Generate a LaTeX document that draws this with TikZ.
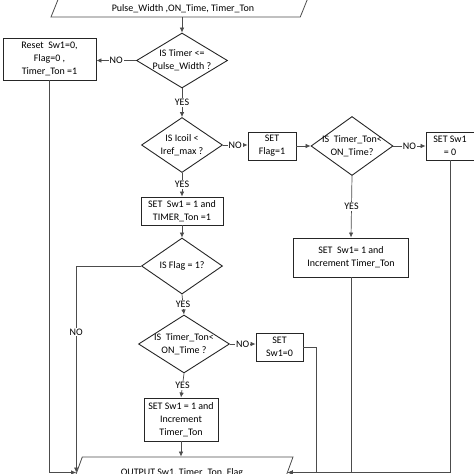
\documentclass[tikz,border=0pt]{standalone}
\usepackage{fontspec}
\setmainfont{Carlito}
\usetikzlibrary{shapes.geometric,arrows.meta}
\tikzset{
  box/.style={draw=black!85, line width=0.9pt, rectangle, align=center, inner sep=1pt},
  decision/.style={draw=black!85, line width=0.9pt, diamond, aspect=2, align=center,
    inner xsep=-8pt, inner ysep=-6pt},
  io/.style={draw=black!70, line width=0.8pt, trapezium, trapezium stretches body,
    align=center, inner xsep=2pt, inner ysep=3pt},
  flow/.style={draw=black!70, line width=0.7pt, -{Latex[length=5pt,width=4.5pt]}},
  lbl/.style={fill=white, inner sep=1pt}
}
\begin{document}
\begin{tikzpicture}[x=1pt, y=-1pt, font=\fontsize{10}{13}\selectfont]
    \pgfmathsetmacro{\xm}{182}
    \clip (0,0) rectangle (474,474);
    \node[io, trapezium left angle=68, trapezium right angle=112, minimum width=264pt,
      text height=28pt, text depth=2.5pt] (in) at (183,-1.25)
      {Pulse\_Width ,ON\_Time, Timer\_Ton};
    \node[decision, minimum width=91pt, minimum height=55pt] (d1) at (\xm,60.5)
      {IS Timer <=\\Pulse\_Width ?};
    \node[box, minimum width=93pt, minimum height=42pt] (reset) at (49.5,59)
      {Reset~ Sw1=0,\\Flag=0 ,\\Timer\_Ton =1};
    \node[decision, minimum width=81pt, minimum height=55pt] (d2) at (\xm,145)
      {IS Icoil <\\Iref\_max ?};
    \node[box, minimum width=48pt, minimum height=28pt] (flag) at (272,146) {SET\\Flag=1};
    \node[decision, minimum width=82pt, minimum height=59pt] (d3) at (352,146)
      {IS~ Timer\_Ton<\\ON\_Time?};
    \node[box, minimum width=48pt, minimum height=28pt] (sw0a) at (450,146) {SET Sw1\\= 0};
    \node[box, minimum width=115pt, minimum height=39pt] (inc1) at (351,257.5)
      {SET~ Sw1= 1 and\\Increment Timer\_Ton};
    \node[box, minimum width=82pt, minimum height=28pt] (set1) at (\xm,211)
      {SET~ Sw1 = 1 and\\TIMER\_Ton =1};
    \node[decision, minimum width=81pt, minimum height=56pt] (d4) at (\xm,266) {IS Flag = 1?};
    \node[decision, minimum width=91pt, minimum height=58pt] (d5) at (184,344)
      {IS~ Timer\_Ton<\\ON\_Time ?};
    \node[box, minimum width=47pt, minimum height=28pt] (sw0b) at (279.5,347) {SET\\Sw1=0};
    \node[box, minimum width=74pt, minimum height=43pt] (inc2) at (181,419.5)
      {SET Sw1 = 1 and\\Increment\\Timer\_Ton};
    \node[io, trapezium left angle=70, trapezium right angle=110, minimum width=222pt,
      text height=15pt, text depth=10pt] (out) at (182,472.5)
      {OUTPUT Sw1, Timer\_Ton, Flag};

    \draw[flow] (in.south -| d1.north) -- (d1.north);
    \draw[flow] (d1.west) -- node[lbl]{NO} (d1.west -| reset.east);
    \draw[flow] (d1.south) -- node[lbl]{YES} (d2.north);
    \draw[flow] (d2.east) -- node[lbl]{NO} (d2.east -| flag.west);
    \draw[flow] (flag.east) -- (d3.west);
    \draw[flow] (d3.east) -- node[lbl]{NO} (sw0a.west);
    \draw[flow] (d3.south) -- node[lbl]{YES} (inc1.north);
    \draw[flow] (d2.south) -- node[lbl]{YES} (set1.north);
    \draw[flow] (set1.south) -- (d4.north);
    \draw[flow] (d4.west) -| node[lbl, pos=0.66]{NO} (out.west);
    \draw[flow] (reset.south) |- (out.west);
    \draw[flow] (d4.south) -- node[lbl]{YES} (d5.north);
    \draw[flow] (d5.east) -- node[lbl]{NO} (d5.east -| sw0b.west);
    \draw[flow] (d5.south) -- node[lbl]{YES} (inc2.north);
    \draw[flow] (inc2.south) -- (inc2.south |- out.north);
    \draw[flow] (sw0b.east) -- ++(13,0) |- (out.east);
    \draw[flow] (inc1.south) |- (out.east);
    \draw[flow] (sw0a.south) |- (out.east);
\end{tikzpicture}
\end{document}
